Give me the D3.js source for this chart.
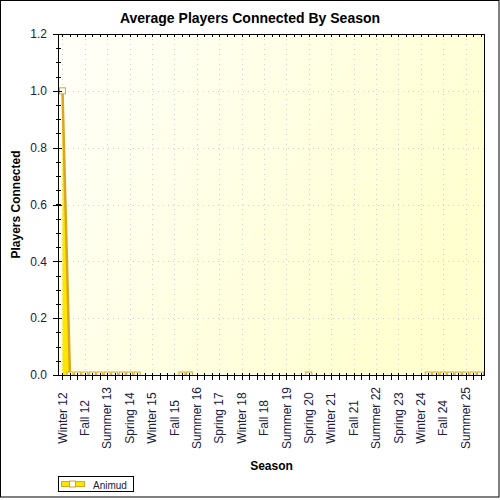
<!DOCTYPE html>
<html>
<head>
<meta charset="utf-8">
<script src="https://cdn.jsdelivr.net/npm/d3@7"></script>
<style>
  html, body { margin: 0; padding: 0; background: #fff; }
  svg { display: block; font-family: "Liberation Sans", Arial, sans-serif; }
</style>
</head>
<body>
<svg id="chart" width="500" height="500"></svg>
<script>
// ---- data ----
const categories = [
  "Winter 12","Spring 12","Summer 12","Fall 12",
  "Winter 13","Spring 13","Summer 13","Fall 13",
  "Winter 14","Spring 14","Summer 14","Fall 14",
  "Winter 15","Spring 15","Summer 15","Fall 15",
  "Winter 16","Spring 16","Summer 16","Fall 16",
  "Winter 17","Spring 17","Summer 17","Fall 17",
  "Winter 18","Spring 18","Summer 18","Fall 18",
  "Winter 19","Spring 19","Summer 19","Fall 19",
  "Winter 20","Spring 20","Summer 20","Fall 20",
  "Winter 21","Spring 21","Summer 21","Fall 21",
  "Winter 22","Spring 22","Summer 22","Fall 22",
  "Winter 23","Spring 23","Summer 23","Fall 23",
  "Winter 24","Spring 24","Summer 24","Fall 24",
  "Winter 25","Spring 25","Summer 25","Fall 25",
  "Winter 26"
];
const labeledCategories = [
  "Winter 12","Fall 12","Summer 13","Spring 14","Winter 15","Fall 15",
  "Summer 16","Spring 17","Winter 18","Fall 18","Summer 19","Spring 20",
  "Winter 21","Fall 21","Summer 22","Spring 23","Winter 24","Fall 24","Summer 25"
];
const seriesName = "Animud";
const animudValues = [
  1.0, 0, 0, 0, 0, 0, 0, 0, 0, 0, 0,
  null, null, null, null, null,
  0, 0,
  null, null, null, null, null, null, null, null, null, null, null, null, null, null, null,
  0,
  null, null, null, null, null, null, null, null, null, null, null, null, null, null, null,
  0, 0, 0, 0, 0, 0, 0, 0
];
const yTicks = [0, 0.2, 0.4, 0.6, 0.8, 1.0, 1.2];
const yMinorTicks = d3.range(0, 1.2001, 0.05);

// ---- layout ----
const svg = d3.select("#chart");
const plot = { left: 58, right: 485, top: 34, bottom: 375 };
const yellow = "#FFE600", gold = "#DAA520", labelColor = "#202040";

svg.append("rect").attr("x", 0.5).attr("y", 0.5).attr("width", 498.5).attr("height", 496.5)
  .attr("fill", "#fff").attr("stroke", "#000");

const x = d3.scalePoint().domain(categories).range([plot.left, plot.right]).padding(0.6);
const y = d3.scaleLinear().domain([0, 1.2]).range([plot.bottom, plot.top]);

const defs = svg.append("defs");
const grad = defs.append("linearGradient").attr("id", "bg")
  .attr("x1", 0).attr("y1", 0).attr("x2", 1).attr("y2", 0.45);
grad.append("stop").attr("offset", "0%").attr("stop-color", "#FFFFFA");
grad.append("stop").attr("offset", "100%").attr("stop-color", "#FFFFD0");
defs.append("clipPath").attr("id", "clip").append("rect")
  .attr("x", plot.left).attr("y", plot.top)
  .attr("width", plot.right - plot.left).attr("height", plot.bottom - plot.top);

svg.append("rect").attr("x", plot.left).attr("y", plot.top)
  .attr("width", plot.right - plot.left).attr("height", plot.bottom - plot.top)
  .attr("fill", "url(#bg)");

// grid
const grid = svg.append("g").attr("stroke", "#CFCFCF").attr("stroke-width", 1)
  .attr("stroke-dasharray", "1,4");
grid.selectAll("line.h").data(yTicks.slice(1, -1)).join("line")
  .attr("x1", plot.left).attr("x2", plot.right)
  .attr("y1", d => Math.round(y(d)) + 0.5).attr("y2", d => Math.round(y(d)) + 0.5);
grid.selectAll("line.v").data(labeledCategories).join("line")
  .attr("x1", d => Math.round(x(d)) + 0.5).attr("x2", d => Math.round(x(d)) + 0.5)
  .attr("y1", plot.top).attr("y2", plot.bottom);

// series
const series = categories.map((c, i) => ({ c, v: animudValues[i] }));
const gSeries = svg.append("g").attr("clip-path", "url(#clip)");
const area = d3.area().defined(d => d.v !== null)
  .x(d => x(d.c)).y0(y(0)).y1(d => y(d.v));
const line = d3.line().defined(d => d.v !== null)
  .x(d => x(d.c)).y(d => y(d.v));
gSeries.append("path").attr("d", area(series)).attr("fill", yellow);
gSeries.append("path").attr("d", line(series)).attr("fill", "none")
  .attr("stroke", gold).attr("stroke-width", 2.5);
gSeries.selectAll("rect.pt").data(series.filter(d => d.v !== null)).join("rect")
  .attr("x", d => x(d.c) - 3).attr("y", d => y(d.v) - 3)
  .attr("width", 6).attr("height", 6)
  .attr("fill", "#fff").attr("stroke", gold).attr("stroke-width", 1);

// plot outline
svg.append("rect").attr("x", plot.left + 0.5).attr("y", plot.top + 0.5)
  .attr("width", plot.right - plot.left - 1).attr("height", plot.bottom - plot.top)
  .attr("fill", "none").attr("stroke", "#000");

// y axis ticks
const yAxisG = svg.append("g").attr("stroke", "#000");
yAxisG.selectAll("line.minor").data(yMinorTicks).join("line")
  .attr("x1", plot.left - 2).attr("x2", plot.left + 3)
  .attr("y1", d => Math.round(y(d)) + 0.5).attr("y2", d => Math.round(y(d)) + 0.5);
yAxisG.selectAll("line.major").data(yTicks).join("line")
  .attr("x1", plot.left - 5).attr("x2", plot.left + 4)
  .attr("y1", d => Math.round(y(d)) + 0.5).attr("y2", d => Math.round(y(d)) + 0.5);
svg.append("g").selectAll("text").data(yTicks).join("text")
  .attr("x", 47).attr("y", d => y(d)).attr("dy", "0.35em")
  .attr("text-anchor", "end").attr("font-size", 12).attr("fill", labelColor)
  .text(d => d3.format(".1f")(d));

// x axis ticks
const xAxisG = svg.append("g").attr("stroke", "#000");
xAxisG.selectAll("line.b").data(categories).join("line")
  .attr("x1", d => Math.round(x(d)) + 0.5).attr("x2", d => Math.round(x(d)) + 0.5)
  .attr("y1", plot.bottom - 2).attr("y2", plot.bottom + 5);
xAxisG.selectAll("line.t").data(categories).join("line")
  .attr("x1", d => Math.round(x(d)) + 0.5).attr("x2", d => Math.round(x(d)) + 0.5)
  .attr("y1", plot.top).attr("y2", plot.top + 3);
svg.append("g").selectAll("text").data(labeledCategories).join("text")
  .attr("transform", d => `translate(${x(d)},418) rotate(-90)`)
  .attr("dy", "0.35em").attr("text-anchor", "middle")
  .attr("font-size", 12).attr("fill", labelColor)
  .text(d => d);

// titles
svg.append("text").attr("x", 250).attr("y", 23).attr("text-anchor", "middle")
  .attr("font-size", 14).attr("font-weight", "bold").attr("fill", "#000")
  .text("Average Players Connected By Season");
svg.append("text").attr("x", (plot.left + plot.right) / 2).attr("y", 470)
  .attr("text-anchor", "middle").attr("font-size", 12).attr("font-weight", "bold")
  .text("Season");
svg.append("text").attr("transform", `translate(20,${(plot.top + plot.bottom) / 2}) rotate(-90)`)
  .attr("text-anchor", "middle").attr("font-size", 12).attr("font-weight", "bold")
  .text("Players Connected");

// legend
const lg = svg.append("g");
lg.append("rect").attr("x", 58.5).attr("y", 476.5).attr("width", 75).attr("height", 15)
  .attr("fill", "#fff").attr("stroke", "#000");
lg.append("rect").attr("x", 61.5).attr("y", 481.5).attr("width", 23).attr("height", 5)
  .attr("fill", yellow).attr("stroke", gold).attr("stroke-width", 1);
lg.append("rect").attr("x", 69.5).attr("y", 481).attr("width", 6).attr("height", 6)
  .attr("fill", "#fff").attr("stroke", gold);
lg.append("text").attr("x", 93).attr("y", 488.5).attr("font-size", 10)
  .attr("fill", labelColor).text(seriesName);
</script>
</body>
</html>
